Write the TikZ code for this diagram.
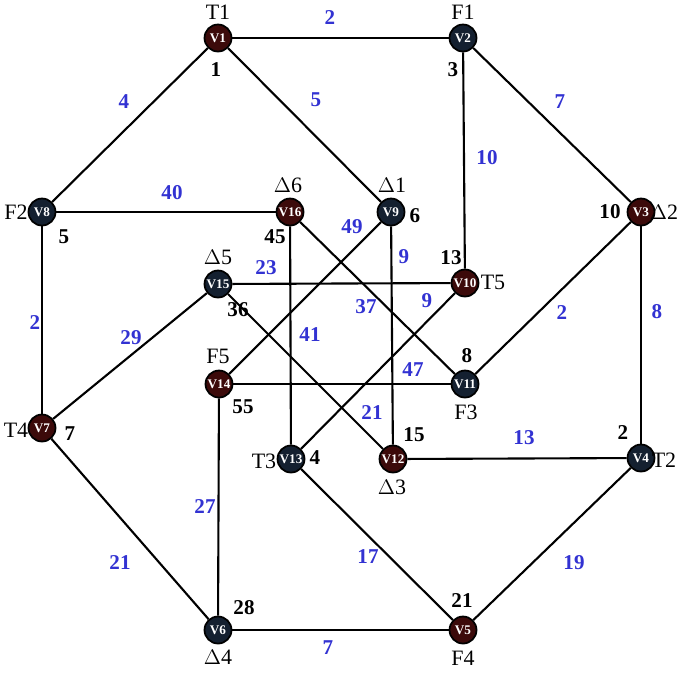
\documentclass[tikz,border=0pt]{standalone}
\usepackage{fontspec}
\setmainfont{Liberation Serif}
\begin{document}
\begin{tikzpicture}[x=0.02cm,y=-0.02cm,
 vr/.style={circle,draw=black,line width=1pt,fill={rgb,255:red,60;green,10;blue,10},inner sep=0pt,minimum size=0.54cm,text=white,font=\fontsize{7.5}{7.5}\selectfont\bfseries},
 vb/.style={vr,fill={rgb,255:red,20;green,32;blue,48}},
 e/.style={line width=1.2pt},
 w/.style={text={rgb,255:red,50;green,50;blue,210},font=\fontsize{12}{12}\selectfont\bfseries},
 n/.style={font=\fontsize{12}{12}\selectfont\bfseries},
 l/.style={font=\fontsize{12.5}{12.5}\selectfont}]
\useasboundingbox (0,0) rectangle (685,674);
\node[vr] (V1) at (218,38) {V1};
\node[vb] (V2) at (463,38) {V2};
\node[vr] (V3) at (641,212) {V3};
\node[vb] (V4) at (641,458) {V4};
\node[vr] (V5) at (463,630) {V5};
\node[vb] (V6) at (218,630) {V6};
\node[vr] (V7) at (42,428) {V7};
\node[vb] (V8) at (42,212) {V8};
\node[vr] (V16) at (290,212) {V16};
\node[vb] (V9) at (391,212) {V9};
\node[vb] (V15) at (218,284) {V15};
\node[vr] (V10) at (465,283) {V10};
\node[vr] (V14) at (219,384) {V14};
\node[vb] (V11) at (465,384) {V11};
\node[vb] (V13) at (291,459) {V13};
\node[vr] (V12) at (393,459) {V12};
\draw[e] (V1)--(V2); \draw[e] (V2)--(V3); \draw[e] (V3)--(V4); \draw[e] (V4)--(V5);
\draw[e] (V5)--(V6); \draw[e] (V6)--(V7); \draw[e] (V7)--(V8); \draw[e] (V8)--(V1);
\draw[e] (V1)--(V9); \draw[e] (V2)--(V10); \draw[e] (V3)--(V11); \draw[e] (V4)--(V12);
\draw[e] (V5)--(V13); \draw[e] (V6)--(V14); \draw[e] (V7)--(V15); \draw[e] (V8)--(V16);
\draw[e] (V16)--(V11); \draw[e] (V16)--(V13); \draw[e] (V9)--(V14); \draw[e] (V9)--(V12);
\draw[e] (V15)--(V10); \draw[e] (V15)--(V12); \draw[e] (V14)--(V11); \draw[e] (V10)--(V13);
% weights
\node[w] (w1) at (330,18) {2};
\node[w] (w2) at (560,102) {7};
\node[w] (w3) at (657,312) {8};
\node[w] (w4) at (574,563) {19};
\node[w] (w5) at (328,648) {7};
\node[w] (w6) at (120,563) {21};
\node[w] (w7) at (35,323) {2};
\node[w] (w8) at (124,102) {4};
\node[w] (w9) at (316,100) {5};
\node[w] (w10) at (487,158) {10};
\node[w] (w11) at (562,313) {2};
\node[w] (w12) at (524,438) {13};
\node[w] (w13) at (368,557) {17};
\node[w] (w14) at (205,507) {27};
\node[w] (w15) at (131,338) {29};
\node[w] (w16) at (172,193) {40};
\node[w] (w17) at (366,307) {37};
\node[w] (w18) at (310,335) {41};
\node[w] (w19) at (352,227) {49};
\node[w] (w20) at (404,257) {9};
\node[w] (w21) at (266,268) {23};
\node[w] (w22) at (372,413) {21};
\node[w] (w23) at (413,370) {47};
\node[w] (w24) at (427,301) {9};
% numbers
\node[n] (n1) at (216,70) {1};
\node[n] (n2) at (453,70) {3};
\node[n] (n3) at (610,212) {10};
\node[n] (n4) at (623,433) {2};
\node[n] (n5) at (462,601) {21};
\node[n] (n6) at (244,608) {28};
\node[n] (n7) at (70,434) {7};
\node[n] (n8) at (64,237) {5};
\node[n] (n9) at (275,237) {45};
\node[n] (n10) at (415,216) {6};
\node[n] (n11) at (238,310) {36};
\node[n] (n12) at (451,258) {13};
\node[n] (n13) at (243,407) {55};
\node[n] (n14) at (467,356) {8};
\node[n] (n15) at (315,458) {4};
\node[n] (n16) at (414,435) {15};
% letters
\node[l] (t1) at (218,12) {T1};
\node[l] (t2) at (463,12) {F1};
\node[l] (t3) at (664,212) {$\Delta$2};
\node[l] (t4) at (664,460) {T2};
\node[l] (t5) at (463,658) {F4};
\node[l] (t6) at (218,657) {$\Delta$4};
\node[l] (t7) at (16,430) {T4};
\node[l] (t8) at (16,212) {F2};
\node[l] (t9) at (288,185) {$\Delta$6};
\node[l] (t10) at (392,185) {$\Delta$1};
\node[l] (t11) at (218,257) {$\Delta$5};
\node[l] (t12) at (493,282) {T5};
\node[l] (t13) at (218,356) {F5};
\node[l] (t14) at (466,412) {F3};
\node[l] (t15) at (264,461) {T3};
\node[l] (t16) at (392,487) {$\Delta$3};
\end{tikzpicture}
\end{document}
